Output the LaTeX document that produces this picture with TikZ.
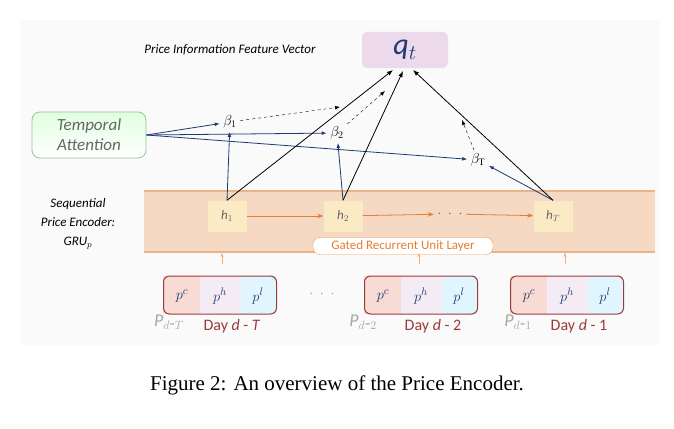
\documentclass[tikz,border=0pt]{standalone}
\usepackage{fontspec}
\setsansfont{Carlito}
\setmainfont{Liberation Serif}
\usetikzlibrary{arrows.meta}
\definecolor{nb}{HTML}{1F3A73}
\definecolor{band}{HTML}{F6D9C2}
\definecolor{bandl}{HTML}{E9B48C}
\definecolor{hbox}{HTML}{FAEBC4}
\definecolor{org}{HTML}{E67E33}
\definecolor{pbd}{HTML}{9A3B3B}
\newcommand{\fs}[1]{\fontsize{#1}{#1}\selectfont}
\tikzset{
 bl/.style={nb,thick,-{Latex[length=5pt]}},
 bk/.style={black,thick,-{Latex[length=6pt]}},
 ds/.style={black,dashed,-{Latex[length=5pt]}},
 hb/.style={fill=hbox,minimum width=39pt,minimum height=31pt,inner sep=0pt,font=\sffamily\itshape\fs{13}\color{black!60}},
 bt/.style={font=\fs{14}}
}
\begin{document}
\begin{tikzpicture}[x=1pt,y=-1pt]
\useasboundingbox (0,0) rectangle (674,428);
\fill[black!2] (20,20) rectangle (660,345);
\node[fill=violet!15,rounded corners=5pt,minimum width=86pt,minimum height=36pt,font=\sffamily\itshape\fs{30}\color{nb}] (q) at (405,50) {q$_t$};
\node[font=\sffamily\itshape\fs{13}] (piv) at (230,50) {Price Information Feature Vector};
\node[draw=green!40!black!40,top color=green!12!white,bottom color=white,rounded corners=8pt,minimum width=114pt,minimum height=46pt,align=center,font=\sffamily\itshape\fs{17}\color{black!60},line width=0.8pt] (ta) at (89,135) {Temporal\\[3pt]Attention};
\node[bt] (b1) at (230,122) {$\beta_1$};
\node[bt] (b2) at (337,133) {$\beta_2$};
\node[bt] (bT) at (478,160) {$\beta_{\mathrm T}$};
\fill[band] (144,191) rectangle (655,252);
\draw[bandl,line width=1.2pt] (144,191) -- (655,191) (144,252) -- (655,252);
\node[align=center,font=\sffamily\itshape\fs{13},inner sep=0pt] (spe) at (78,224) {Sequential\\[6pt]Price Encoder:\\[6pt]GRU$_p$};
\node[hb] (h1) at (227,216) {h$_1$};
\node[hb] (h2) at (343,216) {h$_2$};
\node[hb] (hT) at (553,216) {h$_T$};
\node[text=black!60,bt] (dots) at (450,214) {$\cdot\ \cdot\ \cdot$};
\draw[org,thick,-{Stealth[length=6pt]}] (h1) -- (h2);
\draw[org,thick,-{Stealth[length=6pt]}] (h2) -- (dots);
\draw[org,thick,-{Stealth[length=6pt]}] (dots) -- (hT);
\node[draw=org!80,fill=white,rounded corners=7pt,minimum width=180pt,minimum height=17pt,inner sep=0pt,font=\sffamily\fs{13}\color{org}] (gru) at (403,246) {Gated Recurrent Unit Layer};
\foreach \n/\x/\c/\lab/\dx/\dd in {p1/220/222/T/-57/{Day \textit{d} - \textit{T}},p2/421/419/2/-64/{Day \textit{d} - 2},p3/567/565/1/-55/{Day \textit{d} - 1}}{
 \fill[red!40!brown!20] (\x-57,276) rectangle (\x-20,314);
 \fill[violet!8] (\x-20,276) rectangle (\x+21,314);
 \fill[cyan!12] (\x+21,276) rectangle (\x+56,314);
 \node[draw=pbd,line width=1pt,rounded corners=6pt,minimum width=113pt,minimum height=38pt] (\n) at (\x,295) {};
 \node[text=nb,font=\fs{15}] at (\x-38,296) {$p^c$};
 \node[text=nb,font=\fs{15}] at (\x,296) {$p^h$};
 \node[text=nb,font=\fs{15}] at (\x+38,296) {$p^l$};
 \node[text=pbd,font=\sffamily\fs{16}] at (\x+12,326) {\dd};
 \node[text=black!35,font=\sffamily\itshape\fs{18}] at (\x+\dx+6,322) {P$_{d\mbox{-}\lab}$};
 \draw[org!60,-{Stealth[length=4pt]}] (\c,264) -- (\c,253);
}
\node[text=black!40,bt] at (322,294) {$\cdot\ \cdot\ \cdot$};
\draw[bl] (ta.east) -- (b1);
\draw[bl] (ta.east) -- (b2);
\draw[bl] (ta.east) -- (bT);
\draw[bl] (h1.north) -- (b1);
\draw[bl] (h2.north) -- (b2);
\draw[bl] (hT.north) -- (bT);
\draw[bk] (h1.north) -- (393,70);
\draw[bk] (h2.north) -- (403,71);
\draw[bk] (hT.north) -- (413,70);
\draw[ds] (b1) -- (340,107);
\draw[ds] (b2) -- (385,91);
\draw[ds] (bT) -- (462,120);
\node[font=\fs{21}] (cap) at (337,385) {Figure 2: An overview of the Price Encoder.};
\end{tikzpicture}
\end{document}
